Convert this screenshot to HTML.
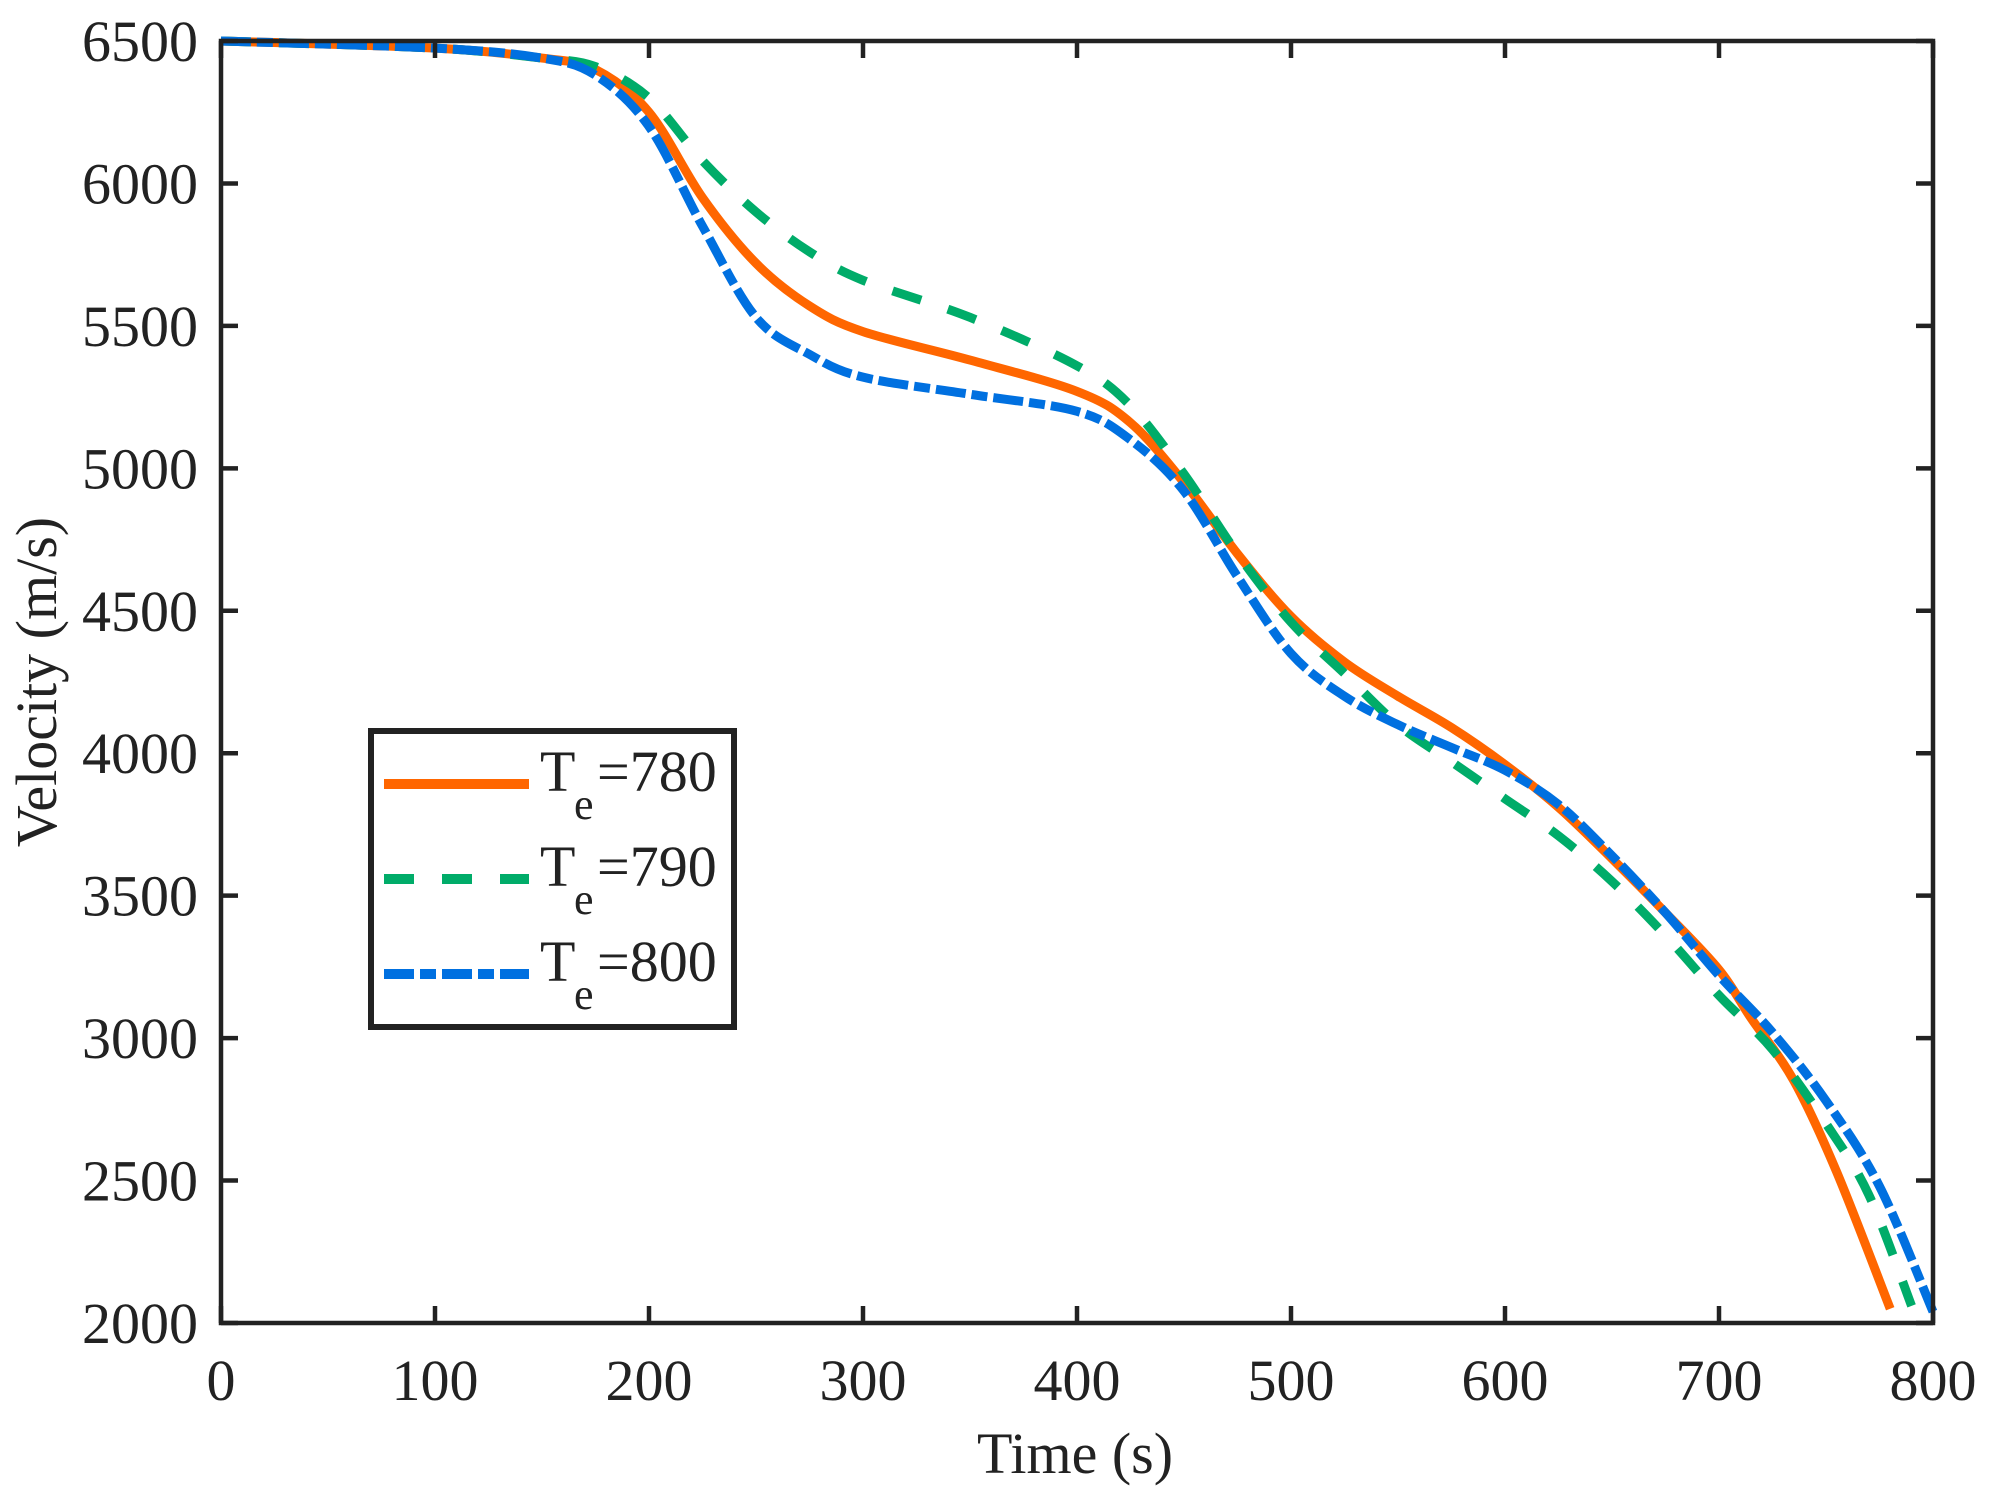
<!DOCTYPE html>
<html><head><meta charset="utf-8"><style>
html,body{margin:0;padding:0;background:#fff;}
svg text{font-family:"Liberation Serif",serif;fill:#222;}
</style></head><body>
<svg id="s" width="1989" height="1495" xmlns="http://www.w3.org/2000/svg">
<rect width="1989" height="1495" fill="#fff"/>
<g id="curves" fill="none" stroke-width="9">
<path id="o" stroke="#ff6600"/>
<path id="g" stroke="#00ac69" stroke-dasharray="30 28"/>
<path id="b" stroke="#0070e0" stroke-dasharray="30 6 16 6"/>
</g>
<rect x="221" y="41" width="1712" height="1282" fill="none" stroke="#222" stroke-width="4.5"/>
<g id="ticks" stroke="#222" stroke-width="4.5"></g>
<g id="labels" font-size="58"></g>
<text x="1075" y="1473" font-size="58" text-anchor="middle">Time (s)</text>
<text transform="translate(56,682) rotate(-90)" font-size="58" text-anchor="middle">Velocity (m/s)</text>
<rect x="371" y="731" width="363" height="296" fill="#fff" stroke="#222" stroke-width="6"/>
<line x1="384" y1="784" x2="529" y2="784" stroke="#ff6600" stroke-width="10"/>
<line x1="384" y1="879" x2="529" y2="879" stroke="#00ac69" stroke-width="10" stroke-dasharray="30 28"/>
<line x1="384" y1="974" x2="529" y2="974" stroke="#0070e0" stroke-width="10" stroke-dasharray="30 6 16 6"/>
<g font-size="58" fill="#000">
<text x="540" y="791">T</text><text x="574" y="819" font-size="44">e</text><text x="597" y="791">=780</text>
<text x="540" y="886">T</text><text x="574" y="914" font-size="44">e</text><text x="597" y="886">=790</text>
<text x="540" y="981">T</text><text x="574" y="1009" font-size="44">e</text><text x="597" y="981">=800</text>
</g>
</svg>
<script>
var X=function(t){return 221+t*1712/800},Y=function(v){return 41+(6500-v)*1282/4500};
var O=[[0,6500],[100,6475],[150,6440],[175,6400],[200,6250],[225,5950],[250,5720],[275,5570],[300,5480],[350,5380],[400,5270],[425,5160],[450,4950],[475,4700],[500,4480],[525,4320],[550,4200],[575,4090],[600,3960],[625,3810],[650,3630],[675,3440],[700,3240],[715,3070],[735,2850],[755,2530],[780,2050]];
var G=[[0,6500],[100,6475],[150,6440],[175,6410],[200,6300],[225,6080],[250,5900],[275,5760],[300,5660],[350,5530],[400,5360],[425,5220],[450,4980],[475,4700],[500,4460],[525,4280],[550,4100],[575,3970],[600,3840],[625,3710],[650,3550],[675,3360],[700,3150],[725,2960],[750,2700],[770,2450],[790,2060]];
var B=[[0,6500],[100,6475],[150,6440],[175,6380],[200,6200],[225,5850],[250,5530],[275,5400],[300,5320],[350,5260],[400,5200],[425,5100],[450,4920],[475,4620],[500,4350],[525,4200],[550,4100],[575,4020],[600,3940],[625,3820],[650,3640],[675,3440],[700,3220],[725,3020],[750,2780],[775,2480],[800,2040]];
function path(d){var p=d.map(function(a){return [X(a[0]),Y(a[1])]});var s="M"+p[0][0]+","+p[0][1];
for(var i=0;i<p.length-1;i++){var p0=p[i-1]||p[i],p1=p[i],p2=p[i+1],p3=p[i+2]||p[i+1];
s+=" C"+(p1[0]+(p2[0]-p0[0])/6)+","+(p1[1]+(p2[1]-p0[1])/6)+" "+(p2[0]-(p3[0]-p1[0])/6)+","+(p2[1]-(p3[1]-p1[1])/6)+" "+p2[0]+","+p2[1];}return s;}
document.getElementById("o").setAttribute("d",path(O));
document.getElementById("g").setAttribute("d",path(G));
document.getElementById("b").setAttribute("d",path(B));
var ns="http://www.w3.org/2000/svg",tk=document.getElementById("ticks"),lb=document.getElementById("labels");
function el(n,a,p,t){var e=document.createElementNS(ns,n);for(var k in a)e.setAttribute(k,a[k]);if(t)e.textContent=t;p.appendChild(e);}
for(var t=0;t<=800;t+=100){var x=X(t);el("line",{x1:x,y1:1323,x2:x,y2:1306},tk);el("line",{x1:x,y1:41,x2:x,y2:58},tk);
el("text",{x:x,y:1400,"text-anchor":"middle"},lb,String(t));}
for(var v=2000;v<=6500;v+=500){var y=Y(v);el("line",{x1:221,y1:y,x2:238,y2:y},tk);el("line",{x1:1933,y1:y,x2:1916,y2:y},tk);
el("text",{x:198,y:y+20,"text-anchor":"end"},lb,String(v));}
</script>
</body></html>
